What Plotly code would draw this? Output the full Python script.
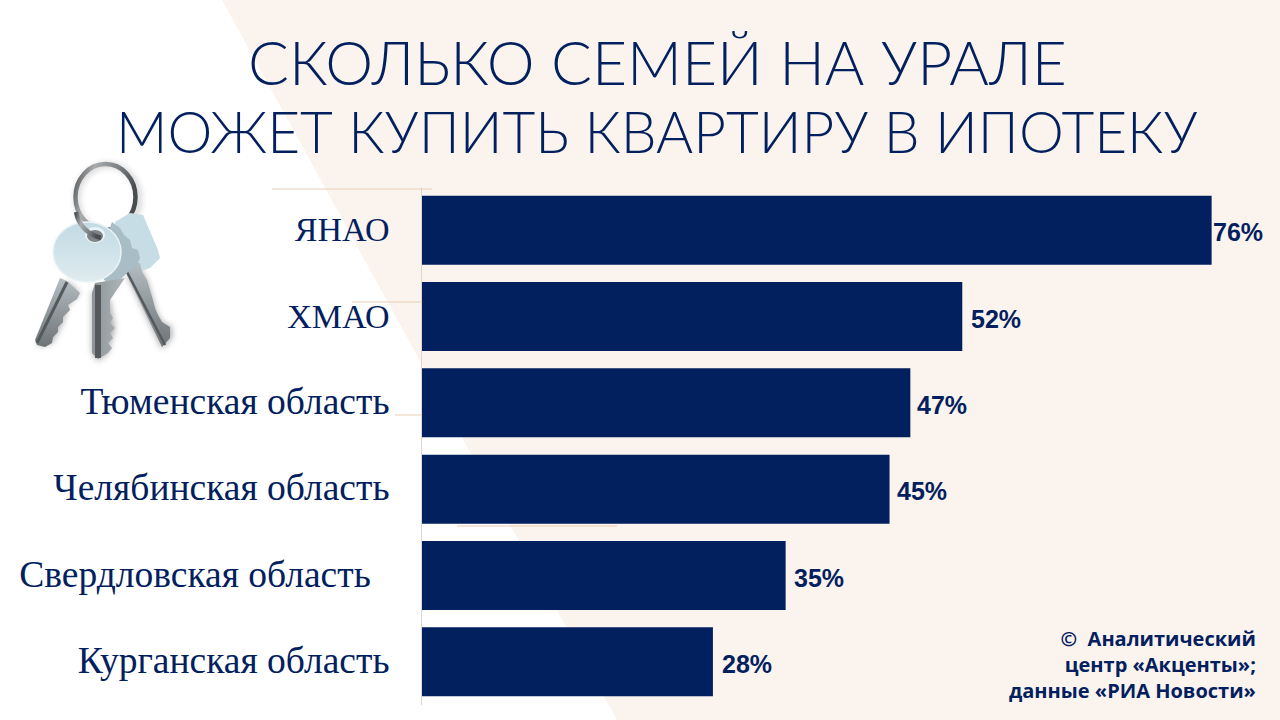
import base64
import plotly.graph_objects as go

regions = ["ЯНАО", "ХМАО", "Тюменская область", "Челябинская область",
           "Свердловская область", "Курганская область"]
tick_labels = ["<span style='font-size:34px'>ЯНАО</span>", "<span style='font-size:34px'>ХМАО</span>",
               "Тюменская область", "Челябинская область",
               "Свердловская область\u00a0\u00a0", "Курганская область"]
shares = [76, 52, 47, 45, 35, 28]
label_shift = [-1, 7, 5, 5, 6, 7]

NAVY = "#02205E"
PEACH = "#FBF3EE"
TAN = "#E9CDB4"
W, H = 1280, 720


def px(x):
    return x / W


def py(y):
    return 1 - y / H


def tan_line(x0, x1, y):
    return dict(type="line", xref="paper", yref="paper", layer="below",
                x0=px(x0), x1=px(x1), y0=py(y), y1=py(y),
                line=dict(color=TAN, width=1))


# ключи: viewBox совпадает с координатами страницы
keys_svg = """<svg xmlns="http://www.w3.org/2000/svg" width="160" height="215" viewBox="20 155 160 215">
<defs>
<linearGradient id="b" x1="0" y1="0" x2="0" y2="1"><stop offset="0" stop-color="#b4bec3"/><stop offset="1" stop-color="#6e7376"/></linearGradient>
<linearGradient id="c" x1="0" y1="0" x2="1" y2="0"><stop offset="0" stop-color="#8d9397"/><stop offset="1" stop-color="#b0b7bb"/></linearGradient>
<linearGradient id="h" x1="0" y1="0" x2="0" y2="1"><stop offset="0" stop-color="#c2dae4"/><stop offset="1" stop-color="#dfebef"/></linearGradient>
<linearGradient id="r" x1="0" y1="0" x2="1" y2="0.3"><stop offset="0" stop-color="#4f5254"/><stop offset="0.3" stop-color="#a9acae"/><stop offset="0.7" stop-color="#7b7e80"/><stop offset="1" stop-color="#4a4d4f"/></linearGradient>
<filter id="s" x="-20%" y="-20%" width="140%" height="140%"><feGaussianBlur stdDeviation="3"/></filter>
</defs>
<ellipse cx="108" cy="199" rx="31" ry="34" fill="none" stroke="#888" stroke-width="4" opacity="0.5" filter="url(#s)"/>
<path d="M127 275 L162 349 L172 338 L172 327 L162 322 L158 315 L155 308 L153 300 L150 290 L147 280 L142 272 L140 263 Z M67 281 L80 293 L68 305 L63 322 L52 343 L37 347 Z M92 290 L110 300 L115 328 L108 353 L98 361 L92 353 Z" fill="#666" opacity="0.55" filter="url(#s)"/>
<ellipse cx="105.5" cy="197" rx="30" ry="33" fill="none" stroke="url(#r)" stroke-width="4.5"/>
<path d="M115 222 L130 213 L143 215 L158 250 L160 258 L150 268 L130 275 L120 260 Z" fill="#c6dde6"/>
<path d="M127 275 L162 347 L170 338 L170 327 L162 322 L158 315 L155 308 L153 300 L150 290 L147 280 L142 272 L140 263 L128 262 Z" fill="url(#b)"/>
<path d="M127 272 L165 345" stroke="#54595d" stroke-width="2.5" fill="none"/>
<path d="M112 222 L120 228 L124 235 L130 240 L132 248 L138 250 L140 258 L137 265 L130 270 L122 278 L110 286 L95 270 Z" fill="#a9bdc6"/>
<path d="M95 283 L125 278 L110 300 L110 307 L110 313 L113 318 L110 323 L115 328 L110 333 L113 338 L108 343 L112 348 L108 353 L98 359 L92 353 L92 293 Z" fill="url(#c)"/>
<path d="M98 285 L98 358" stroke="#55595c" stroke-width="6" fill="none"/>
<path d="M60 278 L67 281 L80 293 L77 299 L68 305 L70 310 L63 317 L63 322 L58 327 L58 332 L53 337 L52 343 L45 347 L37 345 L35 340 Z" fill="url(#b)"/>
<path d="M67 282 L37 343" stroke="#54595d" stroke-width="3" fill="none"/>
<ellipse cx="87" cy="252" rx="34" ry="30" fill="url(#h)" stroke="#eaf3f6" stroke-width="1.5"/>
<ellipse cx="95" cy="235" rx="10" ry="8" fill="#eaf3f6"/>
<ellipse cx="95" cy="236" rx="8" ry="6" fill="#7d8387"/>
<path d="M76 212 Q80 232 101 238" fill="none" stroke="url(#r)" stroke-width="4.5"/>
</svg>"""
keys_uri = "data:image/svg+xml;base64," + base64.b64encode(keys_svg.encode("utf-8")).decode()

fig = go.Figure(go.Bar(
    x=shares,
    y=regions,
    orientation="h",
    marker=dict(color=NAVY, line=dict(width=0)),
    hoverinfo="skip",
))

# подписи значений
for region, share, shift in zip(regions, shares, label_shift):
    fig.add_annotation(x=share, y=region, text=f"{share}%", xref="x", yref="y",
                       xanchor="left", yanchor="middle", showarrow=False, xshift=shift, yshift=-2,
                       font=dict(family="Liberation Sans", size=25, color=NAVY, weight="bold"))

fig.add_annotation(xref="paper", yref="paper", x=px(657), y=py(61), yanchor="middle",
                   text="СКОЛЬКО СЕМЕЙ НА УРАЛЕ",
                   showarrow=False, font=dict(family="Lato", size=60.5, color=NAVY, weight=300))
fig.add_annotation(xref="paper", yref="paper", x=px(657), y=py(131), yanchor="middle",
                   text="МОЖЕТ КУПИТЬ КВАРТИРУ В ИПОТЕКУ",
                   showarrow=False, font=dict(family="Lato", size=56.7, color=NAVY, weight=300))
fig.add_annotation(xref="paper", yref="paper", x=px(1258), y=py(664), xanchor="right", yanchor="middle", align="right",
                   text="©  Аналитический<br>центр «Акценты»;<br>данные «РИА Новости»",
                   showarrow=False, font=dict(family="Open Sans", size=20, color=NAVY, weight="bold"))

fig.update_layout(
    width=W,
    height=H,
    margin=dict(l=0, r=0, t=0, b=0),
    paper_bgcolor="white",
    plot_bgcolor="rgba(0,0,0,0)",
    showlegend=False,
    bargap=0.2,
    xaxis=dict(domain=[px(422), 1], range=[0, 82.58], visible=False),
    yaxis=dict(domain=[py(705), py(187)], autorange="reversed", tickmode="array",
               tickvals=regions, ticktext=tick_labels, ticks="", ticklabelstandoff=24,
               ticklabelshift=2,
               showgrid=False, showline=True, linecolor="#DDD6D0", linewidth=1,
               tickfont=dict(family="Liberation Serif", size=37.5, color=NAVY)),
    shapes=[
        dict(type="path", xref="paper", yref="paper", layer="below", line=dict(width=0),
             fillcolor=PEACH,
             path=f"M {px(222)} {py(0)} L 1 {py(0)} L 1 {py(720)} L {px(617)} {py(720)} Z"),
        tan_line(272, 432, 189),
        tan_line(352, 422, 302),
        tan_line(395, 422, 415),
        tan_line(457, 617, 526),
    ],
    images=[dict(source=keys_uri, xref="paper", yref="paper", x=px(20), y=py(155),
                 sizex=160 / W, sizey=215 / H, xanchor="left", yanchor="top",
                 sizing="stretch", layer="above")],
)

# убираем отступ body, чтобы рисунок лёг ровно в окно
fig.write_html("out.html", config=dict(displayModeBar=False),
               post_script="document.body.style.margin='0';")
